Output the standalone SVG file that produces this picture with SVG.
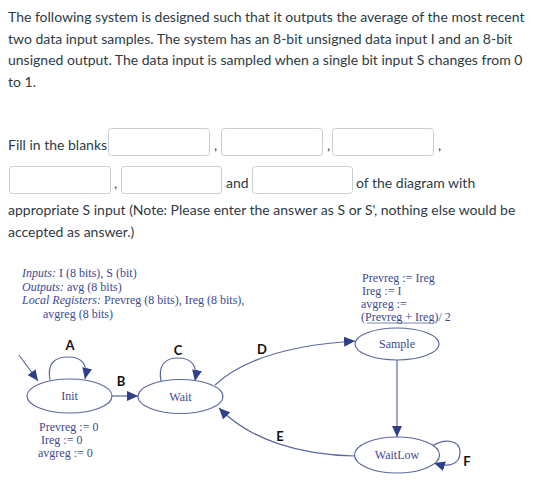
<svg xmlns="http://www.w3.org/2000/svg" width="535" height="502" viewBox="0 0 535 502">
<style>
.q{font-family:Lato,"Liberation Sans",sans-serif;font-size:14px;fill:#2d3b45}
.box{fill:#fff;stroke:#c7cdd1;stroke-width:1}
.d{font-family:"Liberation Serif",serif;font-size:12px;fill:#3d4a93}
.st{fill:#fff;stroke:#5b67a3;stroke-width:1.2}
.ln{fill:none;stroke:#5b67a3;stroke-width:1.2}
.lb{font-family:Lato,"Open Sans",sans-serif;font-size:13px;font-weight:bold;fill:#111}
</style>
<defs>
<marker id="ah" markerUnits="userSpaceOnUse" markerWidth="12" markerHeight="10" refX="11" refY="5" orient="auto">
<path d="M0,0 L11,5 L0,10 Z" fill="#2f3f8a"/>
</marker>
</defs>
<rect width="535" height="502" fill="#fff"/>
<g id="question">
<text class="q" x="8" y="22">The following system is designed such that it outputs the average of the most recent</text>
<text class="q" x="8" y="43.5">two data input samples. The system has an 8-bit unsigned data input I and an 8-bit</text>
<text class="q" x="8" y="65">unsigned output. The data input is sampled when a single bit input S changes from 0</text>
<text class="q" x="8" y="86.5">to 1.</text>
<text class="q" x="8" y="150">Fill in the blanks</text>
<rect class="box" x="108.5" y="128.5" width="101" height="27" rx="3"/>
<text class="q" x="214" y="150">,</text>
<rect class="box" x="221.5" y="128.5" width="101" height="27" rx="3"/>
<text class="q" x="327" y="150">,</text>
<rect class="box" x="332.5" y="128.5" width="101" height="27" rx="3"/>
<text class="q" x="438" y="150">,</text>
<rect class="box" x="9.5" y="166.5" width="101" height="27" rx="3"/>
<text class="q" x="114" y="188">,</text>
<rect class="box" x="121.5" y="166.5" width="100" height="27" rx="3"/>
<text class="q" x="226" y="188">and</text>
<rect class="box" x="252.5" y="166.5" width="100" height="27" rx="3"/>
<text class="q" x="356" y="188">of the diagram with</text>
<text class="q" x="8" y="215">appropriate S input (Note: Please enter the answer as S or S', nothing else would be</text>
<text class="q" x="8" y="236.5">accepted as answer.)</text>
</g>
<g id="declarations">
<text class="d" x="22" y="277"><tspan font-style="italic">Inputs:</tspan> I (8 bits), S (bit)</text>
<text class="d" x="22" y="290.5"><tspan font-style="italic">Outputs:</tspan> avg (8 bits)</text>
<text class="d" x="22" y="304"><tspan font-style="italic">Local Registers:</tspan> Prevreg (8 bits), Ireg (8 bits),</text>
<text class="d" x="43" y="317.5">avgreg (8 bits)</text>
</g>
<g id="connectors">
<path class="ln" d="M19,355 L38,381" marker-end="url(#ah)"/>
<path class="ln" d="M50,380 C47,364 54,357 68,357 C82,357 88,364 85,379" marker-end="url(#ah)"/>
<path class="ln" d="M112,396 L138,396" marker-end="url(#ah)"/>
<path class="ln" d="M161,381 C158,365 165,358 178,358 C191,358 198,365 195,381" marker-end="url(#ah)"/>
<path class="ln" d="M215,385 C242,360 290,345 355,341" marker-end="url(#ah)"/>
<path class="ln" d="M397,360 L397,437" marker-end="url(#ah)"/>
<path class="ln" d="M355,456 C300,455 250,440 219,408" marker-end="url(#ah)"/>
<path class="ln" d="M432,446 C445,438 460,440 460,452 C460,466 447,467 434,463" marker-end="url(#ah)"/>
<text class="lb" x="70" y="350" text-anchor="middle">A</text>
<text class="lb" x="121" y="386" text-anchor="middle">B</text>
<text class="lb" x="178" y="355" text-anchor="middle">C</text>
<text class="lb" x="262" y="354" text-anchor="middle">D</text>
<text class="lb" x="280" y="441" text-anchor="middle">E</text>
<text class="lb" x="467" y="466" text-anchor="middle">F</text>
</g>
<g id="Init">
<ellipse class="st" cx="69.5" cy="396" rx="42.5" ry="17"/>
<text class="d" x="69.5" y="400" text-anchor="middle">Init</text>
<text class="d" x="39" y="431">Prevreg := 0</text>
<text class="d" x="41" y="444">Ireg := 0</text>
<text class="d" x="38" y="457">avgreg := 0</text>
</g>
<g id="Wait">
<ellipse class="st" cx="180.5" cy="396.5" rx="42.5" ry="17"/>
<text class="d" x="180.5" y="401" text-anchor="middle">Wait</text>
</g>
<g id="Sample">
<ellipse class="st" cx="397" cy="344" rx="42" ry="16"/>
<text class="d" x="397" y="348" text-anchor="middle">Sample</text>
<text class="d" x="362" y="282">Prevreg := Ireg</text>
<text class="d" x="362" y="295">Ireg := I</text>
<text class="d" x="361" y="308">avgreg :=</text>
<text class="d" x="361" y="321">(Prevreg + Ireg)/ 2</text>
<line x1="367" y1="323" x2="431" y2="323" stroke="#5b67a3" stroke-width="0.8"/>
</g>
<g id="WaitLow">
<ellipse class="st" cx="397" cy="455" rx="42.5" ry="18"/>
<text class="d" x="397" y="459" text-anchor="middle">WaitLow</text>
</g>
</svg>
